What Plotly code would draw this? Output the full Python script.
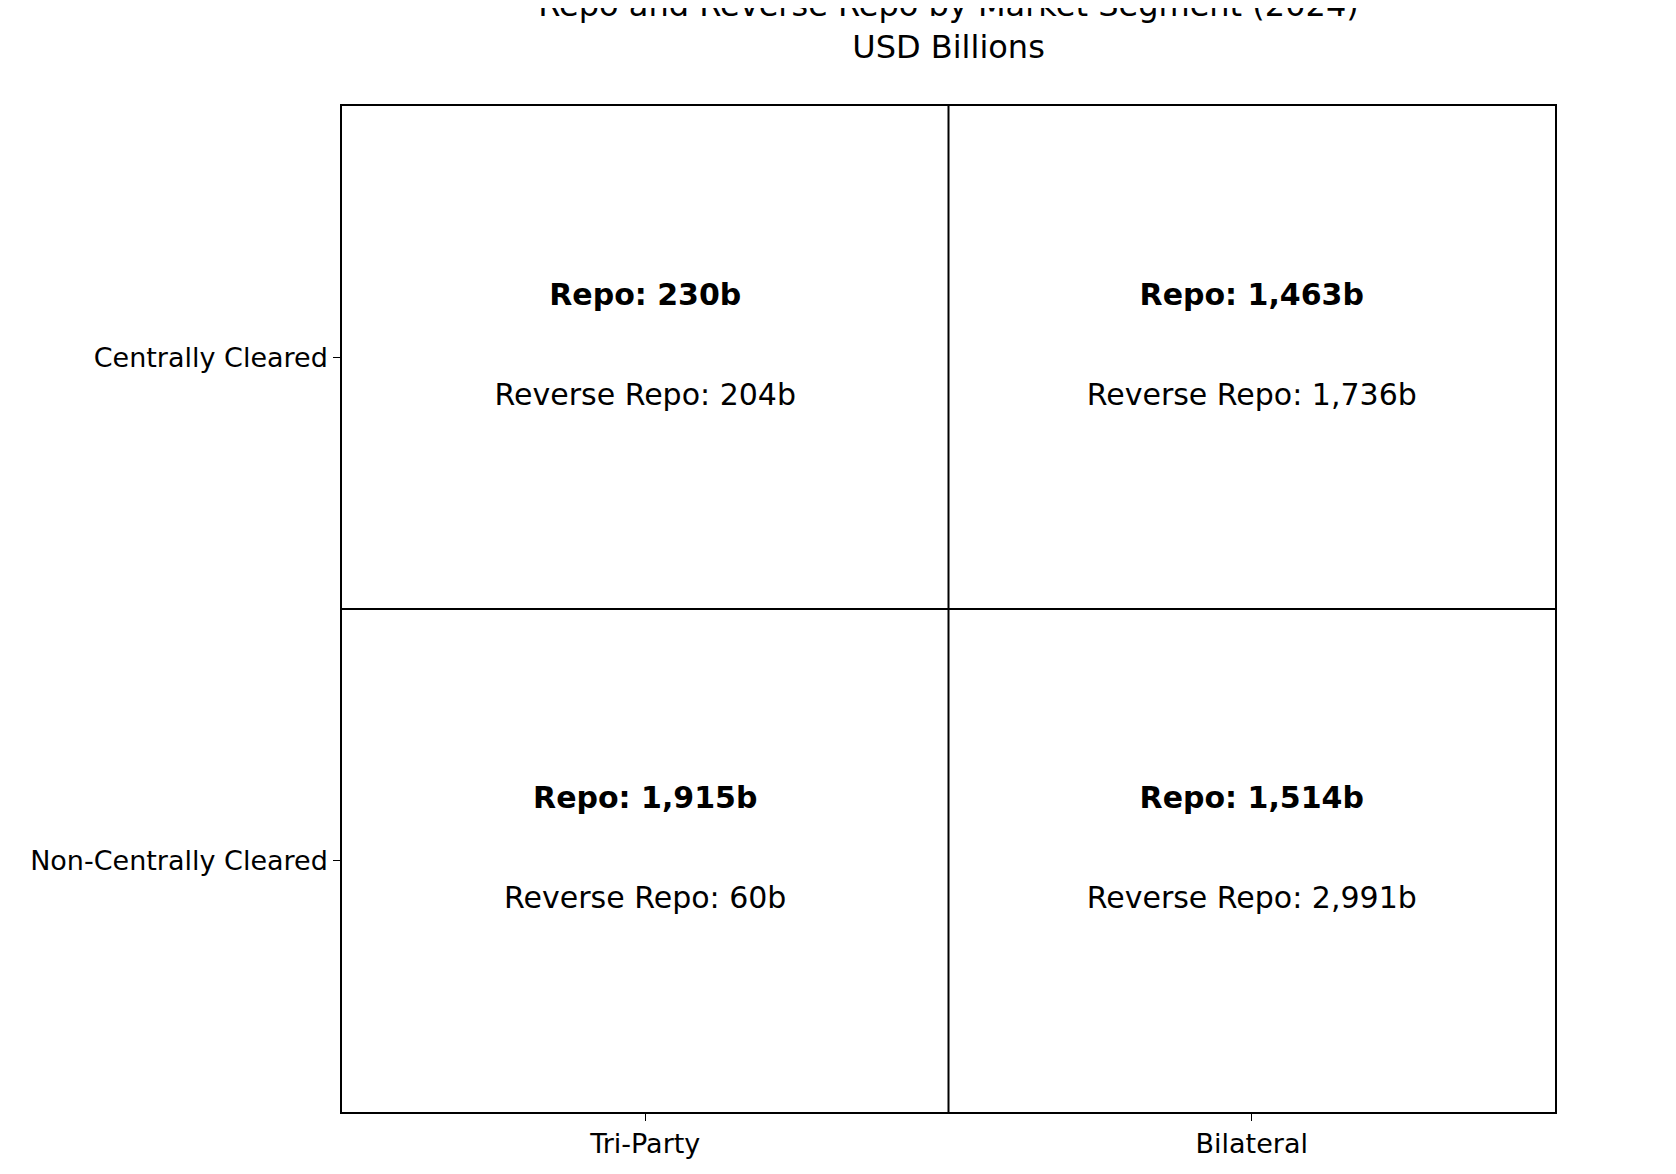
import plotly.graph_objects as go

segments = ["Tri-Party", "Bilateral"]
clearing = ["Non-Centrally Cleared", "Centrally Cleared"]
# values per [clearing][segment], USD billions
repo = [[1915, 1514], [230, 1463]]
reverse_repo = [[60, 2991], [204, 1736]]

xs, ys, t_repo, t_rev = [], [], [], []
for i, c in enumerate(clearing):
    for j, s in enumerate(segments):
        xs.append(j)
        ys.append(i)
        t_repo.append("<b>Repo: {:,}b</b>".format(repo[i][j]))
        t_rev.append("Reverse Repo: {:,}b".format(reverse_repo[i][j]))

fnt = dict(family="DejaVu Sans", size=30, color="black")
fig = go.Figure()
fig.add_trace(go.Scatter(x=xs, y=[y + 0.12 for y in ys], text=t_repo, mode="text",
                         textfont=fnt, hoverinfo="skip"))
fig.add_trace(go.Scatter(x=xs, y=[y - 0.08 for y in ys], text=t_rev, mode="text",
                         textfont=fnt, hoverinfo="skip"))

# cell dividers
fig.add_shape(type="line", x0=0.5, x1=0.5, y0=-0.5, y1=1.5, line=dict(color="black", width=2))
fig.add_shape(type="line", x0=-0.5, x1=1.5, y0=0.5, y1=0.5, line=dict(color="black", width=2))

ax = dict(showgrid=False, zeroline=False, showline=True, mirror=True, linecolor="black",
          linewidth=1.5, ticks="outside", ticklen=7, tickcolor="black",
          tickfont=dict(family="DejaVu Sans", size=27, color="black"), range=[-0.5, 1.5])
fig.update_layout(
    width=1676, height=1174, plot_bgcolor="white", paper_bgcolor="white", showlegend=False,
    margin=dict(l=334, r=129, t=98, b=70),
    title=dict(text="Repo and Reverse Repo by Market Segment (2024)<br>USD Billions",
               x=(334 + 1547) / 2 / 1676, xanchor="center",
               yref="container", y=0.993, yanchor="top",
               font=dict(family="DejaVu Sans", size=32, color="black")),
    xaxis=dict(ax, tickvals=[0, 1], ticktext=segments),
    yaxis=dict(ax, tickvals=[0, 1], ticktext=clearing),
)
fig.write_html("out.html")
